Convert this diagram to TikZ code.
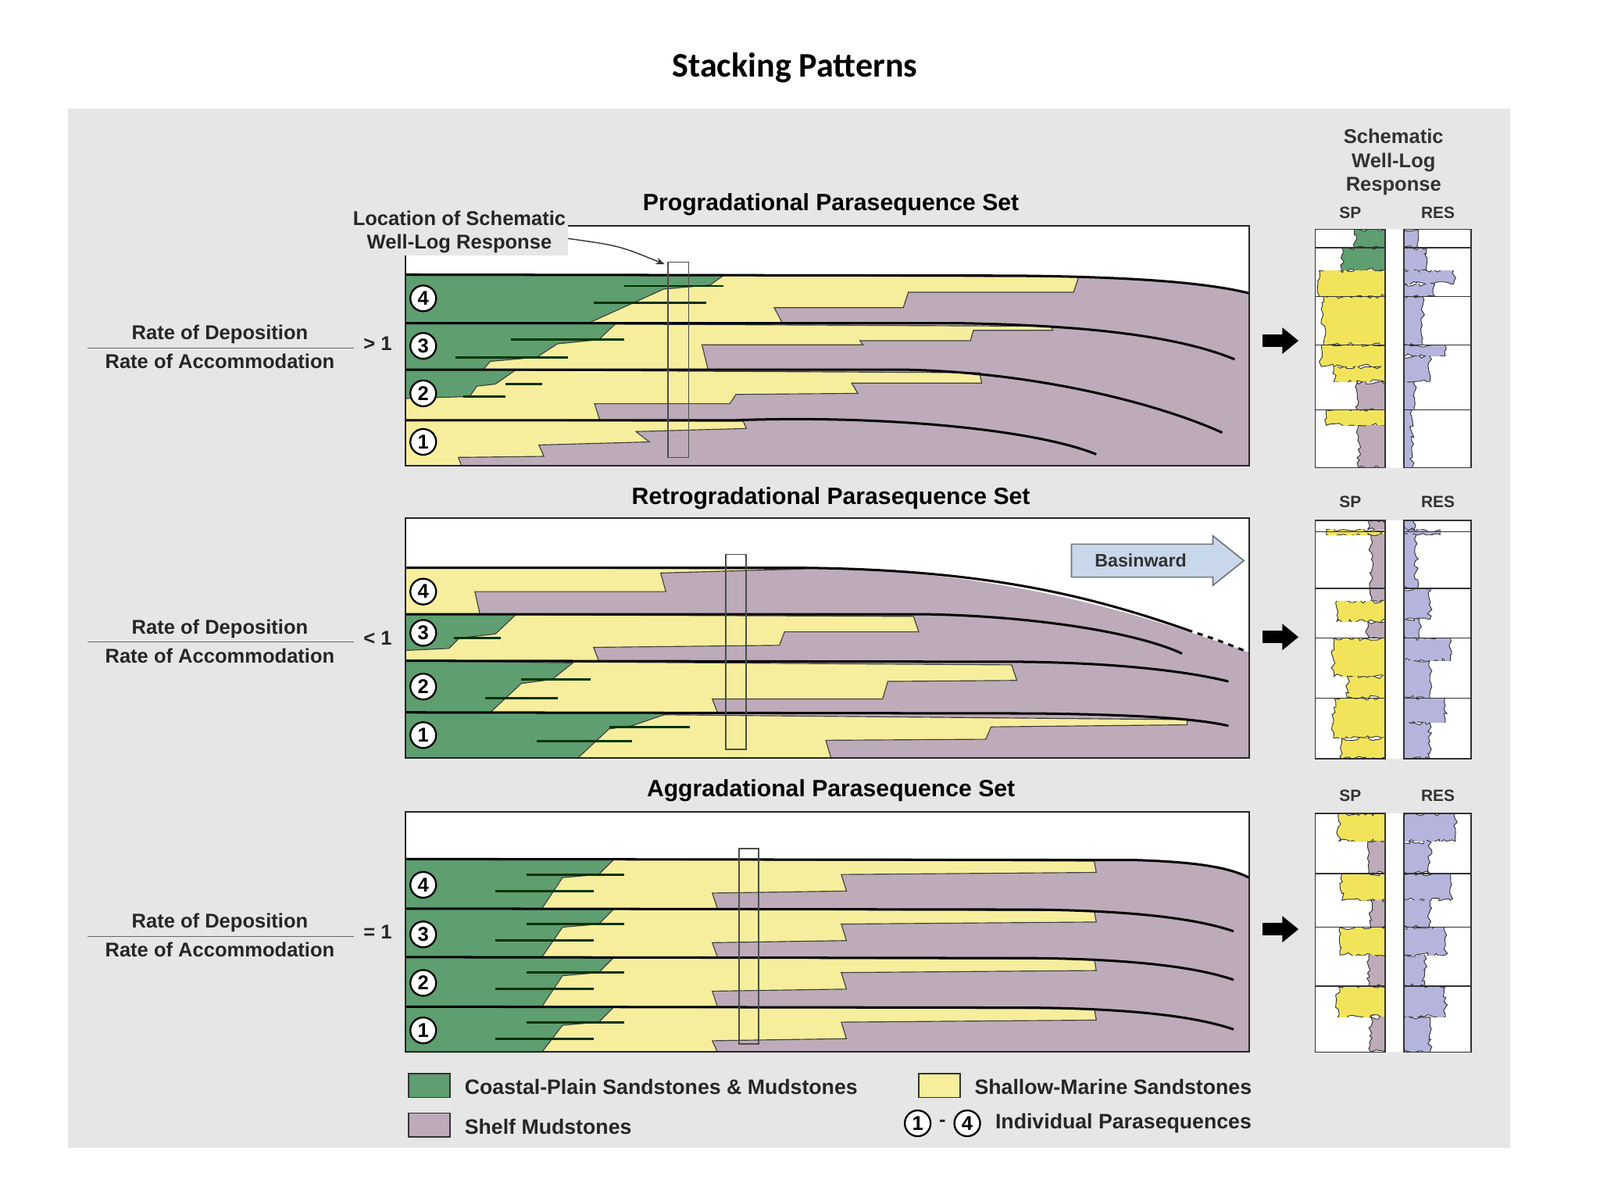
\documentclass[tikz,border=0pt]{standalone}
\usepackage{fontspec}
\setmainfont{Liberation Sans}
\newfontfamily\titlefont{Carlito}
\usetikzlibrary{arrows.meta,decorations.pathmorphing}
\definecolor{cgreen}{HTML}{5E9E70}
\definecolor{cyel}{HTML}{F6EE9C}
\definecolor{logy}{HTML}{F2E45A}
\definecolor{cmauve}{HTML}{BDABB9}
\definecolor{clav}{HTML}{B4B4DC}
\definecolor{cbg}{HTML}{E6E6E6}
\definecolor{cblue}{HTML}{C8D8EA}
\tikzset{
  yel/.style={fill=cyel,draw=black!75,line width=0.5pt},
  grn/.style={fill=cgreen,draw=black!75,line width=0.5pt},
  bnd/.style={draw=black,line width=1.3pt},
  inner/.style={draw=black!80!green,line width=1.2pt},
  num/.style={circle,draw=black,line width=1pt,fill=white,inner sep=0pt,minimum size=0.5cm,font=\bfseries\fontsize{11}{12}\selectfont},
  ptitle/.style={font=\bfseries\fontsize{13}{15}\selectfont},
  rlab/.style={font=\bfseries\fontsize{11}{13}\selectfont,text=black!85},
  loglab/.style={font=\bfseries\fontsize{9}{10}\selectfont,text=black!80},
  wig/.style={decorate,decoration={random steps,segment length=2pt,amplitude=1.3pt}},
  ptr/.style={-{Triangle[length=9pt,width=14pt]},line width=7pt}
}
\newcommand\spfill[4]{\begin{scope}\clip (1274,#1) rectangle (1342,#2);
  \filldraw[fill=#4,draw=black!80,line width=0.4pt,wig] (#3,#1) rectangle (1352,#2);\end{scope}}
\newcommand\resfill[3]{\begin{scope}\clip (1360,#1) rectangle (1425,#2);
  \filldraw[fill=clav,draw=black!80,line width=0.4pt,wig] (1350,#1) rectangle (#3,#2);\end{scope}}
\newcommand\logbox[2]{\draw[black!80,line width=0.7pt] (1274,#1) rectangle (1342,#2) (1360,#1) rectangle (1425,#2);}
\begin{document}
\begin{tikzpicture}[x=0.02cm,y=-0.02cm]
\useasboundingbox (0,0) rectangle (1550,1162.5);
\fill[white] (0,0) rectangle (1550,1162.5);
\node[font=\titlefont\bfseries\fontsize{19}{22}\selectfont] (title) at (770,66) {Stacking Patterns};
\fill[cbg] (66,105) rectangle (1463,1112);

% ---------- panel 1: progradational
\fill[white] (393,219) rectangle (1210,451);
\fill[cmauve] (393,266) -- (980,267) .. controls (1100,268) and (1170,274) .. (1210,284) -- (1210,451) -- (393,451) -- cycle;
\filldraw[yel] (393,266) -- (1045,268) -- (1040,283) -- (880,283) -- (875,298) -- (750,298) -- (758,313) -- (393,313) -- cycle;
\filldraw[yel] (393,313) -- (1018,316) -- (1020,320) -- (943,320) -- (940,330) -- (833,330) -- (836,334) -- (680,334) -- (686,358) -- (393,358) -- cycle;
\filldraw[yel] (393,358) -- (949,361) -- (951,371) -- (825,371) -- (831,381) -- (713,382) -- (707,391) -- (576,391) -- (581,407) -- (393,407) -- cycle;
\filldraw[yel] (393,407) -- (720,408) -- (723,415) -- (616,418) -- (629,428) -- (522,431) -- (527,442) -- (444,443) -- (447,451) -- (393,451) -- cycle;
\filldraw[grn] (393,266) -- (702,266) -- (688,276) -- (643,280) -- (570,313) -- (393,313) -- cycle;
\filldraw[grn] (393,313) -- (597,313) -- (580,329) -- (540,333) -- (520,346) -- (475,350) -- (468,358) -- (393,358) -- cycle;
\filldraw[grn] (393,358) -- (500,358) -- (480,372) -- (462,374) -- (455,384) -- (393,386) -- cycle;
\draw[inner] (605,277) -- (701,277) (575,293) -- (684,293) (495,329) -- (605,329) (441,346) -- (550,346) (490,372) -- (525,372) (449,384) -- (490,384);
\draw[bnd] (393,266) -- (980,267) .. controls (1100,268) and (1170,274) .. (1210,284);
\draw[bnd] (393,313) -- (927,313) .. controls (1050,315) and (1140,325) .. (1196,348);
\draw[bnd] (393,358) -- (873,358) .. controls (1000,360) and (1120,390) .. (1184,419);
\draw[bnd] (393,407) -- (713,407) .. controls (850,402) and (1000,415) .. (1062,440);
\draw[black!85,line width=0.9pt] (393,219) rectangle (1210,451);
\draw[black!70,line width=0.7pt] (647,254) rectangle (667,443);
\node[ptitle] (t1) at (805,198) {Progradational Parasequence Set};
\node[rlab,align=center,fill=cbg,inner sep=1pt] (loc) at (445,225) {Location of Schematic\\Well-Log Response};
\coordinate (locend) at (644,256);
\draw[-{Stealth[length=5pt]},black!80,line width=0.6pt] (loc.east) ++(0,6) .. controls (600,238) .. (locend);
\foreach \n/\y in {4/289,3/335,2/381,1/428} \node[num] (a\n) at (410,\y) {\n};

% ---------- panel 2: retrogradational
\fill[white] (393,502) rectangle (1210,734);
\fill[cmauve] (393,550) -- (780,550) .. controls (950,552) and (1080,585) .. (1210,632) -- (1210,734) -- (393,734) -- cycle;
\filldraw[yel] (393,550) -- (780,551) -- (640,555) -- (645,573) -- (460,573) -- (465,595) -- (393,595) -- cycle;
\filldraw[yel] (393,595) -- (885,597) -- (890,612) -- (760,612) -- (755,625) -- (575,627) -- (580,640) -- (393,640) -- cycle;
\filldraw[yel] (393,640) -- (980,644) -- (985,659) -- (860,660) -- (855,677) -- (690,677) -- (695,690) -- (393,690) -- cycle;
\filldraw[yel] (393,690) -- (1150,697) -- (1150,702) -- (960,704) -- (955,716) -- (800,717) -- (805,734) -- (393,734) -- cycle;
\filldraw[grn] (393,595) -- (500,595) -- (480,614) -- (445,618) -- (435,628) -- (393,630) -- cycle;
\filldraw[grn] (393,640) -- (555,642) -- (535,658) -- (505,662) -- (475,690) -- (393,690) -- cycle;
\filldraw[grn] (393,690) -- (650,690) -- (612,703) -- (590,706) -- (560,734) -- (393,734) -- cycle;
\draw[inner] (440,618) -- (485,618) (505,658) -- (572,658) (470,676) -- (540,676) (590,704) -- (668,704) (520,718) -- (612,718);
\draw[bnd] (393,550) -- (780,550) .. controls (950,552) and (1050,575) .. (1150,610);
\draw[bnd,dashed] (1150,610) .. controls (1180,620) .. (1210,632);
\draw[bnd] (393,595) -- (900,595) .. controls (1000,597) and (1100,612) .. (1145,633);
\draw[bnd] (393,640) -- (990,641) .. controls (1080,642) and (1150,650) .. (1190,660);
\draw[bnd] (393,690) -- (1000,691) .. controls (1100,692) and (1160,696) .. (1190,703);
\draw[black!85,line width=0.9pt] (393,502) rectangle (1210,734);
\draw[black!70,line width=0.7pt] (703,537) rectangle (723,726);
\filldraw[fill=cblue,draw=black!55,line width=0.7pt] (1038,527) -- (1175,527) -- (1175,519) -- (1205,543) -- (1175,567) -- (1175,559) -- (1038,559) -- cycle;
\node[font=\bfseries\fontsize{10}{12}\selectfont,text=black!80] (basin) at (1105,543) {Basinward};
\node[ptitle] (t2) at (805,483) {Retrogradational Parasequence Set};
\foreach \n/\y in {4/573,3/613,2/665,1/712} \node[num] (b\n) at (410,\y) {\n};

% ---------- panel 3: aggradational
\fill[white] (393,786) rectangle (1210,1019);
\fill[cmauve] (393,832) -- (1100,833) .. controls (1160,835) and (1190,840) .. (1210,850) -- (1210,1019) -- (393,1019) -- cycle;
\foreach \t/\b in {832/880,880/927,927/975,975/1019}{
  \filldraw[yel] (393,\t) -- (1060,\t+2) -- (1062,\t+13) -- (815,\t+15) -- (820,\t+31) -- (690,\t+33) -- (695,\b) -- (393,\b) -- cycle;
  \filldraw[grn] (393,\t) -- (595,\t) -- (580,\t+15) -- (545,\t+18) -- (525,\b) -- (393,\b) -- cycle;
  \draw[inner] (510,\t+15) -- (605,\t+15) (480,\t+31) -- (575,\t+31);
}
\draw[bnd] (393,832) -- (1100,833) .. controls (1160,835) and (1190,840) .. (1210,850);
\foreach \y in {880,927,975}
  \draw[bnd] (393,\y) -- (1000,\y+1) .. controls (1100,\y+2) and (1160,\y+10) .. (1195,\y+22);
\draw[black!85,line width=0.9pt] (393,786) rectangle (1210,1019);
\draw[black!70,line width=0.7pt] (716,822) rectangle (735,1011);
\node[ptitle] (t3) at (805,766) {Aggradational Parasequence Set};
\foreach \n/\y in {4/857,3/905,2/952,1/998} \node[num] (c\n) at (410,\y) {\n};

% ---------- left ratio labels
\foreach \k/\y/\r in {p/337/{> 1},r/622/{< 1},g/907/{= 1}}{
  \draw[black!60,line width=0.5pt] (85,\y) -- (343,\y);
  \node[rlab] (dep\k) at (213,\y-13) {Rate of Deposition};
  \node[rlab] (acc\k) at (213,\y+13) {Rate of Accommodation};
  \node[rlab] (rat\k) at (366,\y-4) {\r};
}

% ---------- arrows to logs
\foreach \k/\y in {1/330,2/617,3/900}{
  \coordinate (ps\k) at (1223,\y); \coordinate (pe\k) at (1258,\y);
  \draw[ptr] (ps\k) -- (pe\k);
}

% ---------- well logs
\node[loglab,font=\bfseries\fontsize{11}{13}\selectfont,align=center] (wl) at (1350,157) {Schematic\\Well-Log\\Response};
\foreach \k/\y in {1/206,2/486,3/771}{
  \node[loglab] (sp\k) at (1308,\y) {SP};
  \node[loglab] (res\k) at (1393,\y) {RES};
}
\fill[white] (1274,222) rectangle (1425,453) (1274,504) rectangle (1425,735) (1274,788) rectangle (1425,1019);
% log 1
\spfill{222}{240}{1312}{cgreen}\spfill{240}{262}{1300}{cgreen}\spfill{262}{287}{1278}{logy}
\spfill{287}{334}{1282}{logy}\spfill{334}{355}{1280}{logy}\spfill{355}{370}{1292}{logy}
\spfill{370}{397}{1315}{cmauve}\spfill{397}{412}{1285}{logy}\spfill{412}{453}{1316}{cmauve}
\resfill{222}{240}{1374}\resfill{240}{262}{1382}\resfill{262}{275}{1408}\resfill{275}{287}{1390}
\resfill{287}{334}{1378}\resfill{334}{345}{1400}\resfill{345}{370}{1385}\resfill{370}{397}{1370}\resfill{397}{453}{1368}
\foreach \y in {240,287,334,397} \draw[black!80,line width=0.6pt] (1274,\y) -- (1342,\y) (1360,\y) -- (1425,\y);
\logbox{222}{453}
% log 2
\spfill{504}{513}{1325}{cmauve}\spfill{513}{518}{1285}{logy}\spfill{518}{582}{1328}{cmauve}
\spfill{582}{602}{1295}{logy}\spfill{602}{618}{1325}{cmauve}\spfill{618}{655}{1292}{logy}
\spfill{655}{676}{1305}{logy}\spfill{676}{715}{1292}{logy}\spfill{715}{735}{1300}{logy}
\resfill{504}{513}{1370}\resfill{513}{518}{1395}\resfill{518}{570}{1372}\resfill{570}{600}{1385}
\resfill{600}{618}{1375}\resfill{618}{640}{1405}\resfill{640}{676}{1385}\resfill{676}{700}{1400}\resfill{700}{735}{1385}
\foreach \y in {515,570,618,676} \draw[black!80,line width=0.6pt] (1274,\y) -- (1342,\y) (1360,\y) -- (1425,\y);
\logbox{504}{735}
% log 3
\spfill{788}{815}{1297}{logy}\spfill{815}{846}{1325}{cmauve}\spfill{846}{872}{1300}{logy}\spfill{872}{898}{1328}{cmauve}
\spfill{898}{925}{1298}{logy}\spfill{925}{955}{1326}{cmauve}\spfill{955}{985}{1296}{logy}\spfill{985}{1019}{1328}{cmauve}
\resfill{788}{815}{1410}\resfill{815}{846}{1385}\resfill{846}{872}{1405}\resfill{872}{898}{1385}
\resfill{898}{925}{1400}\resfill{925}{955}{1380}\resfill{955}{985}{1400}\resfill{985}{1019}{1385}
\foreach \y in {846,898,955} \draw[black!80,line width=0.6pt] (1274,\y) -- (1342,\y) (1360,\y) -- (1425,\y);
\logbox{788}{1019}

% ---------- legend
\filldraw[fill=cgreen,draw=black!80,line width=0.7pt] (396,1040) rectangle (436,1063);
\node[rlab,anchor=west,font=\bfseries\fontsize{11.5}{13}\selectfont] (l1) at (444,1053) {Coastal-Plain Sandstones \& Mudstones};
\filldraw[fill=cyel,draw=black!80,line width=0.7pt] (890,1040) rectangle (930,1063);
\node[rlab,anchor=west,font=\bfseries\fontsize{11.5}{13}\selectfont] (l2) at (938,1053) {Shallow-Marine Sandstones};
\filldraw[fill=cmauve,draw=black!80,line width=0.7pt] (396,1078) rectangle (436,1101);
\node[rlab,anchor=west,font=\bfseries\fontsize{11.5}{13}\selectfont] (l3) at (444,1091) {Shelf Mudstones};
\node[num] (lc1) at (889,1088) {1};
\node[rlab] (ldash) at (913,1088) {-};
\node[num] (lc4) at (937,1088) {4};
\node[rlab,anchor=west,font=\bfseries\fontsize{11.5}{13}\selectfont] (l4) at (958,1088) {Individual Parasequences};
\end{tikzpicture}
\end{document}
